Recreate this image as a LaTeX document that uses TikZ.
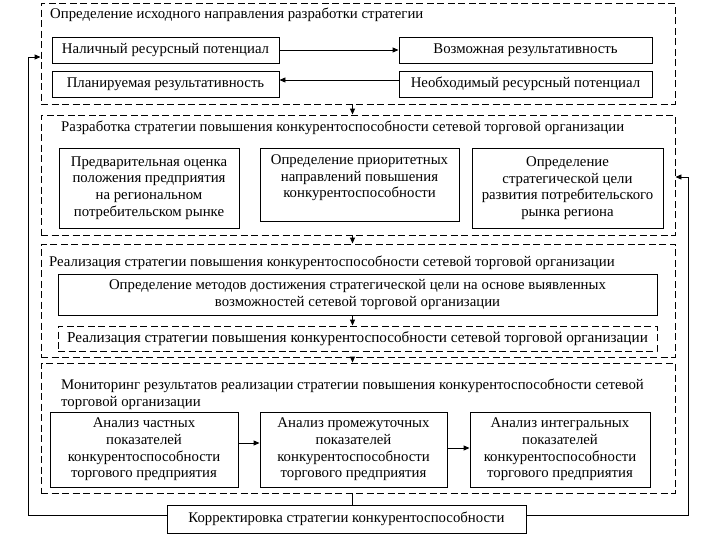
\documentclass[tikz,border=0pt]{standalone}
\usepackage{fontspec}
\setmainfont{Liberation Serif}
\usetikzlibrary{arrows.meta}
\begin{document}
\begin{tikzpicture}[x=1pt,y=-1pt,
  every node/.style={font=\fontsize{14.8}{16.6}\selectfont, inner sep=0pt},
  box/.style={draw, line width=0.9pt, align=center},
  dbox/.style={draw, line width=0.9pt, dash pattern=on 7pt off 3.5pt},
  arr/.style={line width=0.9pt, -{Triangle[length=6pt,width=5pt]}},
  ln/.style={line width=0.9pt}]
\useasboundingbox[fill=white] (0,0) rectangle (704,539);
% sections
\node[dbox, minimum width=634pt, minimum height=101pt] (s1) at (358,53.5) {};
\node[dbox, minimum width=634pt, minimum height=120pt] (s2) at (358,175) {};
\node[dbox, minimum width=634pt, minimum height=113pt] (s3) at (358,300.5) {};
\node[dbox, minimum width=634pt, minimum height=130pt] (s4) at (358,428) {};
% titles
\node[anchor=west] (t1) at (50,15) {Определение исходного направления разработки стратегии};
\node[anchor=west] (t2) at (61,128) {Разработка стратегии повышения конкурентоспособности сетевой торговой организации};
\node[anchor=west] (t3) at (49,263) {Реализация стратегии повышения конкурентоспособности сетевой торговой организации};
\node[anchor=west, align=left] (t4) at (61,394) {Мониторинг результатов реализации стратегии повышения конкурентоспособности сетевой\\торговой организации};
% section 1
\node[box, minimum width=227pt, minimum height=26pt] (a1) at (165.5,50) {Наличный ресурсный потенциал};
\node[box, minimum width=253pt, minimum height=26pt] (a2) at (525.5,50) {Возможная результативность};
\node[box, minimum width=227pt, minimum height=26pt] (a3) at (165.5,84) {Планируемая результативность};
\node[box, minimum width=253pt, minimum height=26pt] (a4) at (525.5,84) {Необходимый ресурсный потенциал};
\draw[arr] (a1.east) -- (a2.west);
\draw[arr] ([yshift=4pt]a4.west) -- ([yshift=4pt]a3.east);
% section 2
\node[box, minimum width=180pt, minimum height=80pt] (b1) at (149,188) {Предварительная оценка\\положения предприятия\\на региональном\\потребительском рынке};
\node[box, minimum width=199pt, minimum height=73pt] (b2) at (359.5,184.5) {Определение приоритетных\\направлений повышения\\конкурентоспособности\\\mbox{}};
\node[box, minimum width=191pt, minimum height=80pt] (b3) at (567.5,188) {Определение\\стратегической цели\\развития потребительского\\рынка региона};
% section 3
\node[box, minimum width=599pt, minimum height=41pt] (c1) at (357.5,294.5) {Определение методов достижения стратегической цели на основе выявленных\\возможностей сетевой торговой организации};
\node[dbox, minimum width=599pt, minimum height=25pt, font=\fontsize{15.2}{17}\selectfont] (c2) at (357.5,338.5) {Реализация стратегии повышения конкурентоспособности сетевой торговой организации};
% section 4
\node[box, minimum width=188pt, minimum height=75pt] (d1) at (144,449.5) {Анализ частных\\показателей\\конкурентоспособности\\торгового предприятия};
\node[box, minimum width=187pt, minimum height=75pt] (d2) at (353.5,449.5) {Анализ промежуточных\\показателей\\конкурентоспособности\\торгового предприятия};
\node[box, minimum width=180pt, minimum height=75pt] (d3) at (560,449.5) {Анализ интегральных\\показателей\\конкурентоспособности\\торгового предприятия};
\draw[arr] ([yshift=6.5pt]d1.east) -- ([yshift=6.5pt]d2.west);
\draw[arr] ([yshift=1.5pt]d2.east) -- ([yshift=1.5pt]d3.west);
% correction
\node[box, minimum width=359pt, minimum height=28pt] (e) at (346.5,519) {Корректировка стратегии конкурентоспособности};
% vertical flow
\coordinate (X) at (352.5,0);
\draw[arr] (X |- s1.south) -- (X |- s2.north);
\draw[arr] (X |- s2.south) -- (X |- s3.north);
\draw[arr] (X |- c1.south) -- (X |- c2.north);
\draw[arr] (X |- s3.south) -- (X |- s4.north);
\draw[ln] (X |- s4.south) -- (X |- e.north);
% feedback
\coordinate (L) at (28,57);
\coordinate (R) at (688,177);
\draw[arr] ([yshift=4pt]e.west) -| (L) -- (L -| s1.west);
\draw[arr] ([yshift=4pt]e.east) -| (R) -- (R -| s2.east);
\end{tikzpicture}
\end{document}
